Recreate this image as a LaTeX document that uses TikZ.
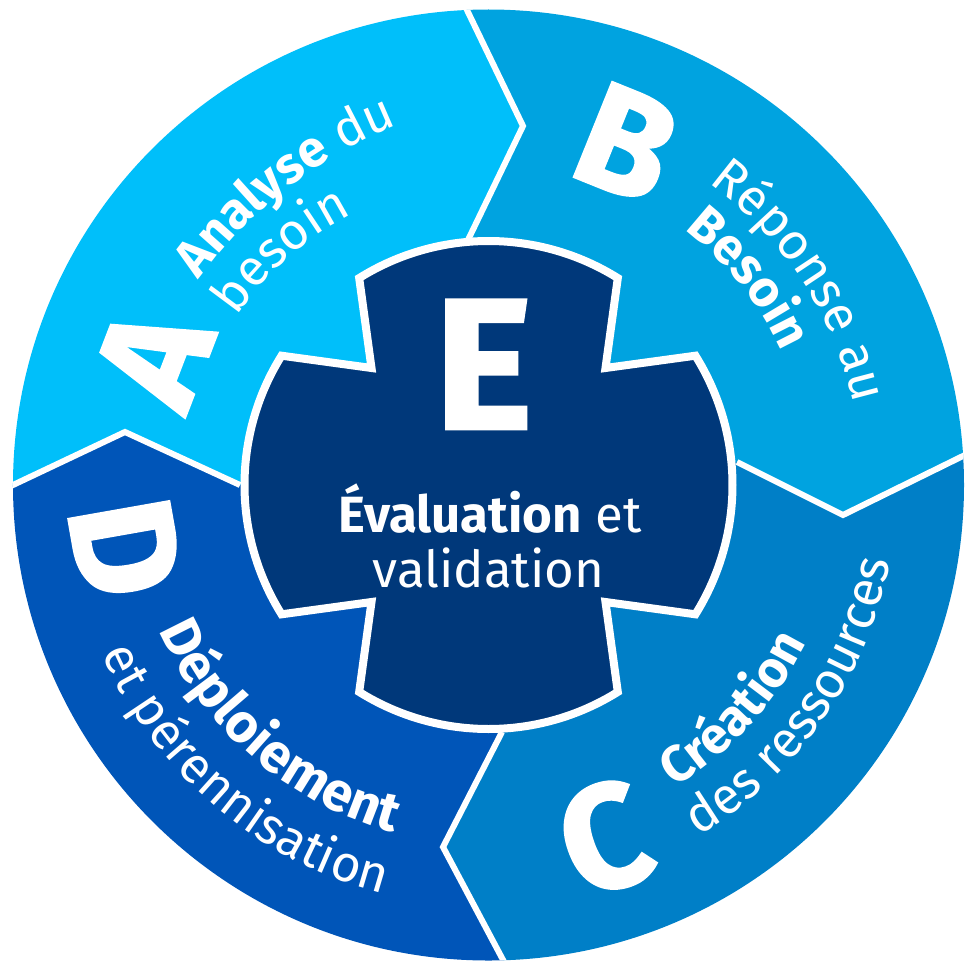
\documentclass[tikz,border=0pt]{standalone}
\usepackage{fontspec}
\setmainfont{Fira Sans}
\newfontfamily\heavyfont{Fira Sans}[BoldFeatures={FakeBold=1.6}]
\usetikzlibrary{decorations.text}
\definecolor{cA}{HTML}{00BFFA}
\definecolor{cB}{HTML}{00A3E0}
\definecolor{cC}{HTML}{007FC7}
\definecolor{cD}{HTML}{0055B8}
\definecolor{cE}{HTML}{00387A}
\begin{document}
\begin{tikzpicture}[x=0.02cm,y=0.02cm,
  bigletter/.style={text=white, font=\fontsize{84}{84}\selectfont\heavyfont\bfseries, inner sep=0pt},
  sepline/.style={white, line width=0.12cm, line join=miter},
  crossline/.style={fill=cE, draw=white, line width=0.16cm, line join=miter},
  midtext/.style={text=white, font=\fontsize{29}{34}\selectfont, inner sep=0pt, anchor=base}]
\useasboundingbox (-488.5,485) rectangle (491.5,-486);
\begin{scope}
\clip (0,0) circle[radius=475.5];
\fill[cA] (0,0) -- (-248.5,0) -- (-363.5,53) -- (-475.5,0) -- (-531.5,-26.5) -- (-600,600) -- (-49.5,533) -- (-21.5,475) -- (34.5,359) -- (-20.5,245) -- cycle;
\fill[cB] (0,0) -- (-20.5,245) -- (34.5,359) -- (-21.5,475) -- (-49.5,533) -- (600,600) -- (537.5,60) -- (476.5,30) -- (354.5,-30) -- (248.5,23) -- cycle;
\fill[cC] (0,0) -- (248.5,23) -- (354.5,-30) -- (476.5,30) -- (537.5,60) -- (600,-600) -- (43,-529) -- (13.5,-473) -- (-45.5,-362) -- (13.5,-247) -- cycle;
\fill[cD] (0,0) -- (13.5,-247) -- (-45.5,-362) -- (13.5,-473) -- (43,-529) -- (-600,-600) -- (-531.5,-26.5) -- (-475.5,0) -- (-363.5,53) -- (-248.5,0) -- cycle;
\draw[sepline] (-20.5,245) -- (34.5,359) -- (-21.5,475) -- (-49.5,533);
\draw[sepline] (248.5,23) -- (354.5,-30) -- (476.5,30) -- (537.5,60);
\draw[sepline] (13.5,-247) -- (-45.5,-362) -- (13.5,-473) -- (43,-529);
\draw[sepline] (-248.5,0) -- (-363.5,53) -- (-475.5,0) -- (-531.5,-26.5);
\end{scope}
\draw[crossline] (122:244) arc[start angle=122, end angle=58, radius=244] -- (117,117)
  -- (32:244) arc[start angle=32, end angle=-32, radius=244] -- (117,-117)
  -- (-58:244) arc[start angle=-58, end angle=-122, radius=244] -- (-117,-117)
  -- (212:244) arc[start angle=212, end angle=148, radius=244] -- (-117,117) -- cycle;
\node[bigletter, font=\fontsize{106}{106}\selectfont\heavyfont\bfseries, anchor=base] (lE) at (-5,56) {E};
\node[midtext] (ev1) at (1.5,-47) {\textbf{Évaluation} et};
\node[midtext] (ev2) at (0,-102) {validation};
\node[bigletter, rotate=69] (lA) at (-335,128) {A};
\node[bigletter, rotate=-22] (lB) at (138,342) {B};
\node[bigletter, rotate=19] (lC) at (116,-353) {C};
\node[bigletter, rotate=-80] (lD) at (-363,-63) {D};
% A texts
\path[decorate, decoration={text along path, text color=white, text align=left,
  text={|\fontsize{29}{29}\selectfont\bfseries|Analyse|\fontsize{29}{29}\selectfont| du}}]
  (-289.7,205.2) arc[start angle=144.1, delta angle=-50, radius=450];
\path[decorate, decoration={text along path, text color=white, text align=left,
  text={|\fontsize{29}{29}\selectfont|besoin}}]
  (146.2:303) arc[start angle=146.2, end angle=60, radius=303];
% B texts
\path[decorate, decoration={text along path, text color=white, text align=left,
  text={|\fontsize{29}{29}\selectfont|Réponse au}}]
  (54:374) arc[start angle=54, end angle=-30, radius=374];
\path[decorate, decoration={text along path, text color=white, text align=left,
  text={|\fontsize{29}{29}\selectfont\bfseries|Besoin}}]
  (52.5:322) arc[start angle=52.5, end angle=-30, radius=322];
% C texts
\path[decorate, decoration={text along path, text color=white, text align=left,
  text={|\fontsize{29}{29}\selectfont\bfseries|Création}}]
  (-58.5:355) arc[start angle=-58.5, end angle=30, radius=355];
\path[decorate, decoration={text along path, text color=white, text align=left,
  text={|\fontsize{29}{29}\selectfont|des ressources}}]
  (-59.1:409) arc[start angle=-59.1, end angle=30, radius=409];
% D texts
\path[decorate, decoration={text along path, text color=white, text align=center,
  text={|\fontsize{31}{31}\selectfont\bfseries|Déploiement}}]
  (159.3:360) arc[start angle=159.3, end angle=299.3, radius=360];
\path[decorate, decoration={text along path, text color=white, text align=center,
  text={|\fontsize{29}{29}\selectfont|et pérennisation}}]
  (159.6:422) arc[start angle=159.6, end angle=299.6, radius=422];
\end{tikzpicture}
\end{document}
